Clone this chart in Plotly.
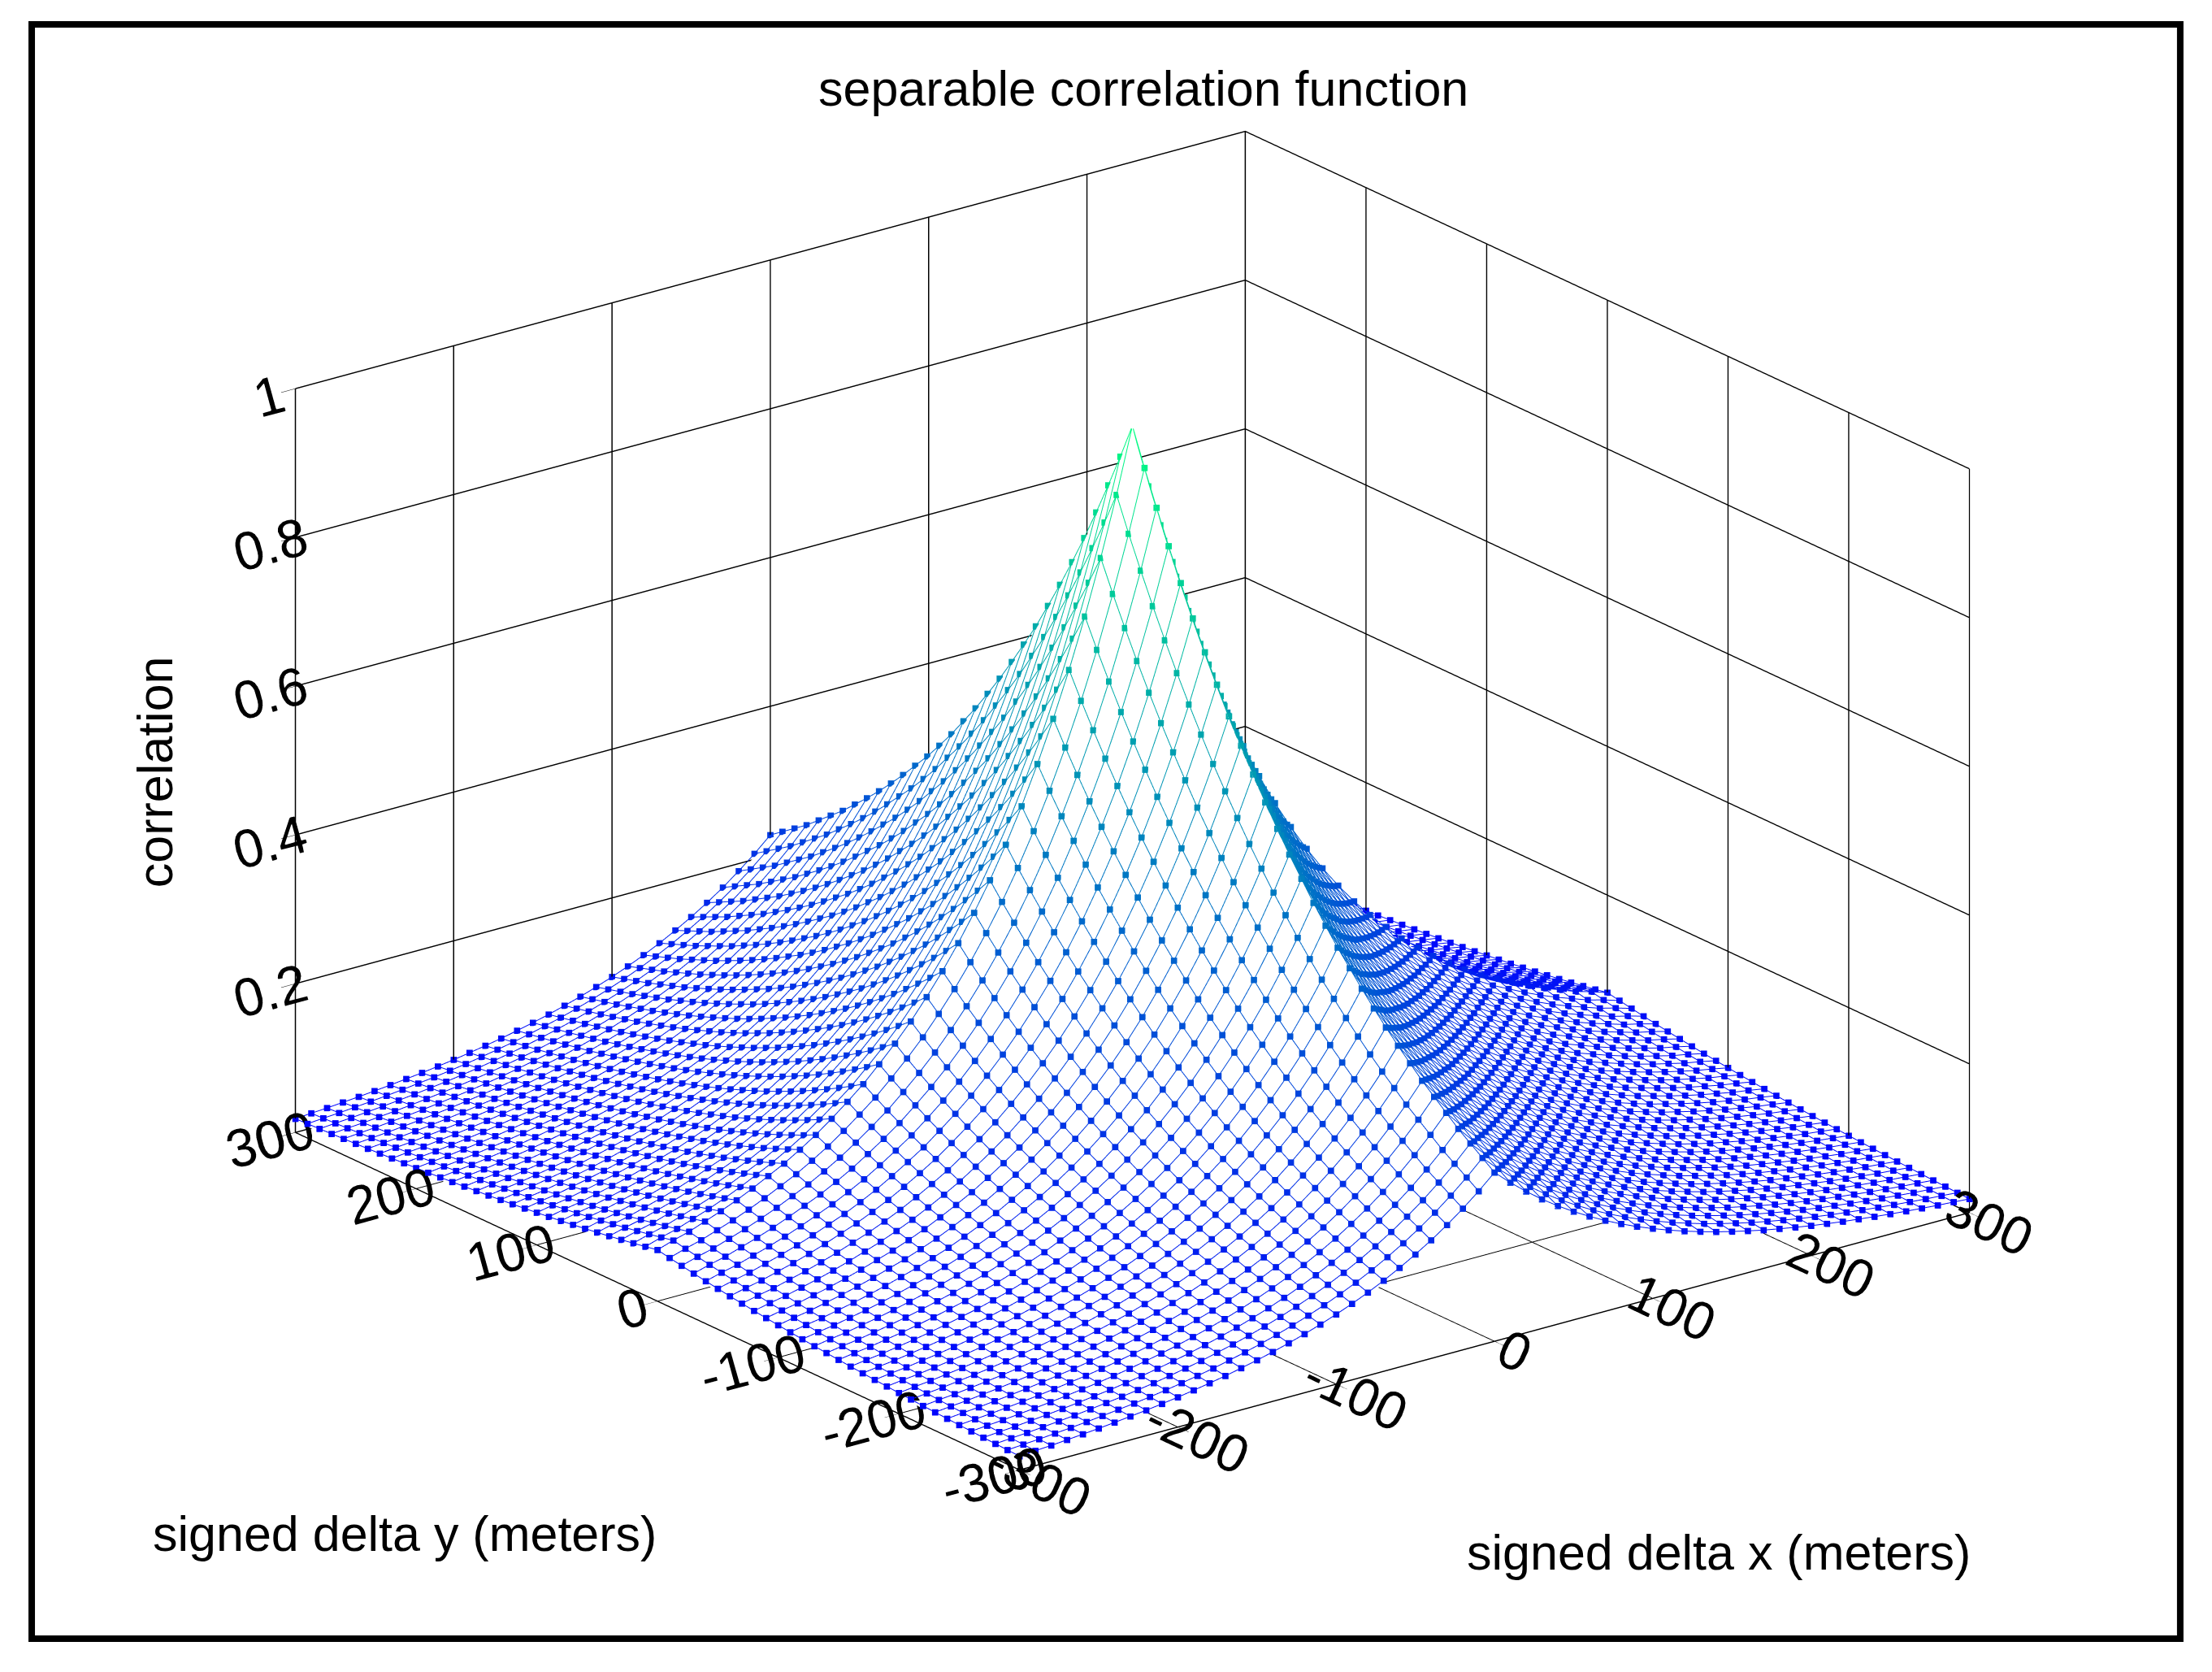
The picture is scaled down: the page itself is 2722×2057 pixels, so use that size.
import numpy as np
import plotly.graph_objects as go

lags = [0, 10, 20, 30, 40, 50, 60, 70, 80, 90, 100, 110, 120, 130, 140, 150,
        160, 170, 180, 190, 200, 210, 220, 230, 240, 250, 260, 270, 280, 290, 300]

# correlation vs |delta x| (estimated from the x ridge of the surface)
corr_x = [1.000, 0.913, 0.834, 0.761, 0.695, 0.635, 0.580, 0.529, 0.483, 0.441,
          0.403, 0.368, 0.336, 0.307, 0.280, 0.256, 0.234, 0.213, 0.195, 0.178,
          0.162, 0.148, 0.135, 0.124, 0.113, 0.103, 0.094, 0.086, 0.078, 0.072,
          0.065]

# correlation vs |delta y| (estimated from the y ridge of the surface)
corr_y = [1.000, 0.951, 0.905, 0.861, 0.819, 0.779, 0.741, 0.705, 0.670, 0.638,
          0.607, 0.577, 0.549, 0.522, 0.497, 0.472, 0.449, 0.427, 0.407, 0.387,
          0.368, 0.350, 0.333, 0.317, 0.301, 0.287, 0.273, 0.259, 0.247, 0.235,
          0.223]

axis_ticks = [-300, -200, -100, 0, 100, 200, 300]
# padded (non-breaking spaces) at the shared front corner so the -300s don't collide
pad = '\u00a0' * 4
x_labels = [pad + '-300', '-200', '-100', '0', '100', '200', '300']
y_labels = ['-300' + pad, '-200', '-100', '0', '100', '200', '300']
z_ticks = [0, 0.2, 0.4, 0.6, 0.8, 1]
z_labels = ['0', '0.2', '0.4', '0.6', '0.8', '1']

# signed lags: mirror the one-sided profiles
dx = np.array([-v for v in lags[:0:-1]] + lags, dtype=float)
dy = dx.copy()
cx = np.array(corr_x[:0:-1] + corr_x)
cy = np.array(corr_y[:0:-1] + corr_y)
Z = np.outer(cy, cx)  # separable: rows follow y, columns follow x

# matlab "winter" colormap
winter = [[0, 'rgb(0,0,255)'], [1, 'rgb(0,255,128)']]
lift = 0.004

# mesh lines (rows and columns), broken with NaN
lx, ly, lz, lc = [], [], [], []
for i in range(len(dy)):
    lx += list(dx) + [np.nan]
    ly += [dy[i]] * len(dx) + [np.nan]
    lz += list(Z[i] + lift) + [np.nan]
    lc += list(Z[i]) + [Z[i][-1]]
for j in range(len(dx)):
    lx += [dx[j]] * len(dy) + [np.nan]
    ly += list(dy) + [np.nan]
    lz += list(Z[:, j] + lift) + [np.nan]
    lc += list(Z[:, j]) + [Z[-1, j]]

XX, YY = np.meshgrid(dx, dy)

fig = go.Figure()
fig.add_trace(go.Surface(
    x=dx, y=dy, z=Z,
    colorscale=[[0, 'white'], [1, 'white']],
    showscale=False,
    lighting=dict(ambient=1, diffuse=0, specular=0, fresnel=0, roughness=1),
    hoverinfo='skip',
))
fig.add_trace(go.Scatter3d(
    x=lx, y=ly, z=lz,
    mode='lines',
    line=dict(color=lc, colorscale=winter, cmin=0, cmax=1, width=2),
    hoverinfo='skip',
    showlegend=False,
))
fig.add_trace(go.Scatter3d(
    x=XX.ravel(), y=YY.ravel(), z=Z.ravel() + lift,
    mode='markers',
    marker=dict(symbol='square', size=4, color=Z.ravel(), colorscale=winter,
                cmin=0, cmax=1, line=dict(width=0)),
    hoverinfo='skip',
    showlegend=False,
))

font = 'Liberation Sans, Arial, sans-serif'
axis_style = dict(
    showbackground=False,
    showgrid=True, gridcolor='black', gridwidth=3,
    showline=True, linecolor='black', linewidth=3,
    zeroline=False,
    ticks='outside', tickcolor='black', ticklen=22,
    tickfont=dict(family=font, size=28, color='black'),
    showspikes=False,
    title=dict(text=''),
)

r = 1.18
s = 1.52
fig.update_layout(
    width=2722, height=2057,
    paper_bgcolor='white',
    margin=dict(l=0, r=0, t=0, b=0),
    scene=dict(
        domain=dict(x=[0.029, 0.989], y=[0.055, 0.995]),
        xaxis=dict(range=[-300, 300], tickvals=axis_ticks, ticktext=x_labels, **axis_style),
        yaxis=dict(range=[-300, 300], tickvals=axis_ticks, ticktext=y_labels, **axis_style),
        zaxis=dict(range=[0, 1], tickvals=z_ticks, ticktext=z_labels, **axis_style),
        aspectmode='manual',
        aspectratio=dict(x=s, y=s, z=0.666 * s),
        camera=dict(
            eye=dict(x=-0.5666 * r, y=-0.7432 * r, z=0.3551 * r),
            center=dict(x=0, y=0, z=0),
            up=dict(x=0, y=0, z=1),
            projection=dict(type='orthographic'),
        ),
    ),
    shapes=[dict(type='rect', xref='paper', yref='paper',
                 x0=0.0114, x1=0.9827, y0=0.0238, y1=0.9893,
                 line=dict(color='black', width=8))],
    annotations=[
        dict(text='separable correlation function', x=0.514, y=0.951,
             xref='paper', yref='paper', showarrow=False,
             xanchor='center', yanchor='middle',
             font=dict(family=font, size=61, color='black')),
        dict(text='signed delta y (meters)', x=0.180, y=0.0865,
             xref='paper', yref='paper', showarrow=False,
             xanchor='center', yanchor='middle',
             font=dict(family=font, size=61, color='black')),
        dict(text='signed delta x (meters)', x=0.774, y=0.0754,
             xref='paper', yref='paper', showarrow=False,
             xanchor='center', yanchor='middle',
             font=dict(family=font, size=61, color='black')),
        dict(text='correlation', x=0.0673, y=0.542, textangle=-90,
             xref='paper', yref='paper', showarrow=False,
             xanchor='center', yanchor='middle',
             font=dict(family=font, size=61, color='black')),
    ],
)

fig.write_html("out.html")
